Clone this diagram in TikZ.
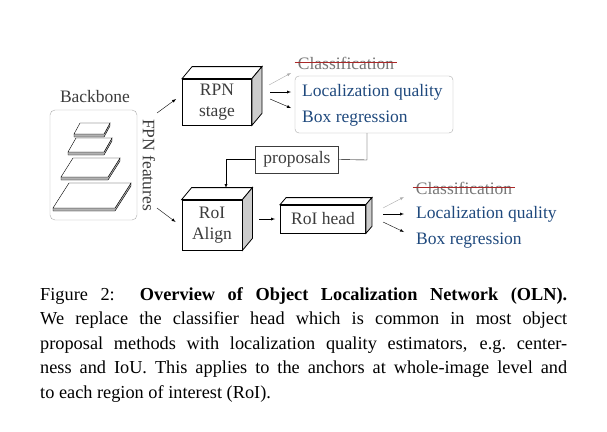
\documentclass[tikz,border=0pt]{standalone}
\usepackage{fontspec}
\setmainfont{Liberation Serif}
\usetikzlibrary{calc}
\definecolor{blu}{RGB}{31,73,125}
\definecolor{strk}{RGB}{170,40,40}
\definecolor{gry}{RGB}{170,170,170}
\definecolor{dtx}{RGB}{60,60,60}
\begin{document}
\begin{tikzpicture}[x=1pt,y=-1pt,
 lbl/.style={font=\fontsize{17.5}{20}\selectfont,inner sep=0pt},
 front/.style={draw,thick,fill=white,inner sep=0pt,align=center,text=dtx,font=\fontsize{17.5}{21}\selectfont},
 arr/.style={-latex,thin},
 garr/.style={-latex,thin,gry}]
\useasboundingbox (0,0) rectangle (607,431);
% backbone
\node[lbl,dtx] (bbl) at (95,97) {Backbone};
\node[draw=gry,rounded corners=5pt,minimum width=87pt,minimum height=110pt] (bb) at (93.5,165) {};
\foreach \x/\y/\w/\h/\d in {74/134/30/11/6, 68/152/36/14/8, 61/177/47/19/12, 53/208/62/25/16}{
  \fill[gray!60,draw=black,thin] (\x,\y) -- (\x+\w,\y) -- (\x+\w+\d,\y-\h) -- (\x+\w+\d,\y-\h+3) -- (\x+\w,\y+3) -- (\x,\y+3) -- cycle;
  \draw[fill=white,thin] (\x,\y) -- (\x+\w,\y) -- (\x+\w+\d,\y-\h) -- (\x+\d,\y-\h) -- cycle;
}
\node[lbl,dtx,rotate=-90] (fpn) at (149,165) {FPN features};
% RPN cube
\node[front,minimum width=69pt,minimum height=46pt] (rpn) at (217,102) {RPN\\stage};
\draw[thick,fill=white] (rpn.north west) -- ++(10,-12) -- ($(rpn.north east)+(10,-12)$) -- (rpn.north east) -- cycle;
\draw[thick,fill=gray!40] (rpn.north east) -- ++(10,-12) -- ($(rpn.south east)+(10,-12)$) -- (rpn.south east) -- cycle;
% RoI Align cube
\node[front,minimum width=60pt,minimum height=50pt] (roi) at (212,225) {RoI\\Align};
\draw[thick,fill=white] (roi.north west) -- ++(10,-12) -- ($(roi.north east)+(10,-12)$) -- (roi.north east) -- cycle;
\draw[thick,fill=gray!40] (roi.north east) -- ++(10,-12) -- ($(roi.south east)+(10,-12)$) -- (roi.south east) -- cycle;
% RoI head
\node[front,minimum width=85pt,minimum height=28pt] (head) at (323,219) {RoI head};
\draw[thick,fill=white] (head.north west) -- ++(6,-7) -- ($(head.north east)+(6,-7)$) -- (head.north east) -- cycle;
\draw[thick,fill=gray!40] (head.north east) -- ++(6,-7) -- ($(head.south east)+(6,-7)$) -- (head.south east) -- cycle;
% FPN arrows
\coordinate (f1) at (157,113); \coordinate (f2) at (157,208);
\draw[arr] (f1) -- ($(rpn.west)+(-6,-3)$);
\draw[arr] (f2) -- ($(roi.west)+(-6,-3)$);
% RPN outputs
\node[lbl,gry!70!black] (c1) at (346,63) {Classification};
\draw[strk,thick] (c1.west) ++(-3,-1) -- ($(c1.east)+(3,-1)$);
\node[draw=gry,rounded corners=4pt,minimum width=158pt,minimum height=57pt] (ob) at (374,104.5) {};
\node[lbl,blu,anchor=west] (l1) at (302,92) {Localization quality};
\node[lbl,blu,anchor=west] (b1) at (302,119) {Box regression};
\coordinate (r1) at (269,85); \coordinate (r2) at (270,92); \coordinate (r3) at (270,99);
\draw[garr] (r1) -- (291,73);
\draw[arr] (r2) -- (291,92);
\draw[arr] (r3) -- (291,108);
% proposals
\node[draw=gry,lbl,dtx,inner xsep=5pt,minimum width=83pt,minimum height=27pt] (prop) at (297,159.5) {proposals};
\draw[thin] (ob.south-|367,0) -- (367,160) -- (prop.east);
\draw[arr] (prop.west) -- (226,159.5) -- (226,188);
% RoI Align -> head
\draw[arr] ($(roi.east)+(17,-6)$) -- ($(head.west)+(-5,0)$);
% head outputs
\node[lbl,gry!70!black] (c2) at (464,188) {Classification};
\draw[strk,thick] (c2.west) ++(-3,-1) -- ($(c2.east)+(3,-1)$);
\node[lbl,blu,anchor=west] (l2) at (416,214) {Localization quality};
\node[lbl,blu,anchor=west] (b2) at (416,241) {Box regression};
\draw[garr] (383,208) -- (404,197);
\draw[arr] (383,214) -- (404,214);
\draw[arr] (383,222) -- (404,232);
% caption
\node[anchor=north west,inner sep=0pt,text width=527pt,align=justify,font=\fontsize{18.3}{24.5}\selectfont] (cap) at (40,287)
{Figure 2:\ \ \textbf{Overview of Object Localization Network (OLN).}\linebreak We replace the classifier head which is common in most object\linebreak proposal methods with localization quality estimators, e.g.\ center-\linebreak ness and IoU. This applies to the anchors at whole-image level and\linebreak to each region of interest (RoI).};
\end{tikzpicture}
\end{document}
